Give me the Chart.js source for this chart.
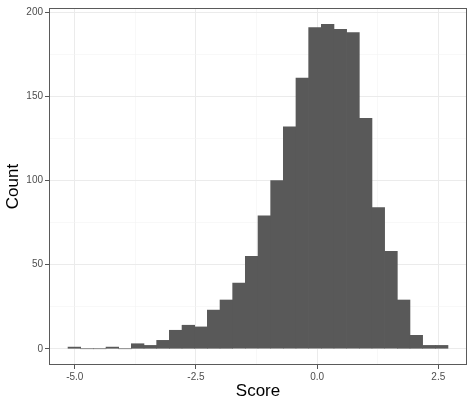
<!DOCTYPE html>
<html>
<head>
<meta charset="utf-8">
<script src="https://cdn.jsdelivr.net/npm/chart.js@4/dist/chart.umd.min.js"></script>
<style>
  html, body { margin: 0; padding: 0; background: #fff; }
  #scoreChart { display: block; }
</style>
</head>
<body>
<canvas id="scoreChart" width="474" height="409"></canvas>
<script>
// Bin centres (30 bins, ~0.261 wide) and counts
const binCenters = [-5.009, -4.748, -4.487, -4.225, -3.964, -3.703, -3.441, -3.180, -2.919, -2.657,
    -2.396, -2.135, -1.873, -1.612, -1.351, -1.089, -0.828, -0.567, -0.306, -0.044,
    0.217, 0.478, 0.740, 1.001, 1.262, 1.524, 1.785, 2.046, 2.308, 2.569];
const counts = [1, 0, 0, 1, 0, 3, 2, 5, 11, 14,
    13, 23, 29, 39, 55, 79, 100, 132, 161, 191,
    193, 190, 188, 137, 84, 58, 29, 8, 2, 2];

// Tick values: labelled ones plus minor grid lines in between
const xTicks = [-5, -3.75, -2.5, -1.25, 0, 1.25, 2.5];
const xLabelled = [-5, -2.5, 0, 2.5];
const yTicks = [0, 25, 50, 75, 100, 125, 150, 175, 200];
const yLabelled = [0, 50, 100, 150, 200];

const font = 'Liberation Sans, Arial, Helvetica, sans-serif';

const isMajor = (list, v) => list.some(t => Math.abs(t - v) < 1e-9);

// ggplot-like panel border all the way round
const panelBorder = {
    id: 'panelBorder',
    afterDraw(chart) {
        const a = chart.chartArea;
        const ctx = chart.ctx;
        ctx.save();
        ctx.strokeStyle = '#5a5a5a';
        ctx.lineWidth = 1;
        ctx.strokeRect(a.left + 0.5, a.top + 0.5, a.right - a.left - 1, a.bottom - a.top - 1);
        ctx.restore();
    }
};

const scoreData = {
    datasets: [
        {
            label: 'Count',
            data: binCenters.map((x, i) => ({ x: x, y: counts[i] })),
            backgroundColor: '#595959',
            borderWidth: 0,
            barPercentage: 1,
            categoryPercentage: 1
        }
    ]
};

const scoreConfig = {
    type: 'bar',
    data: scoreData,
    options: {
        responsive: false,
        animation: false,
        devicePixelRatio: 1,
        layout: { padding: { top: 6, right: 7, left: 0, bottom: 0 } },
        plugins: {
            legend: { display: false },
            tooltip: { enabled: false }
        },
        scales: {
            x: {
                type: 'linear',
                min: -5.532,
                max: 3.092,
                offset: false,
                grid: {
                    offset: false,
                    color: ctx => isMajor(xLabelled, ctx.tick.value) ? '#ebebeb' : '#f4f4f4',
                    lineWidth: ctx => isMajor(xLabelled, ctx.tick.value) ? 1 : 0.6,
                    tickColor: ctx => isMajor(xLabelled, ctx.tick.value) ? '#555' : 'rgba(0,0,0,0)',
                    tickLength: 4,
                    drawOnChartArea: true
                },
                border: { display: false },
                afterBuildTicks: scale => { scale.ticks = xTicks.map(v => ({ value: v })); },
                afterFit: scale => { scale.height = 44; },
                ticks: {
                    autoSkip: false,
                    maxRotation: 0,
                    padding: 2,
                    color: '#4d4d4d',
                    font: { family: font, size: 10 },
                    callback: v => isMajor(xLabelled, v) ? v.toFixed(1) : ''
                },
                title: {
                    display: true,
                    text: 'Score',
                    color: '#000',
                    font: { family: font, size: 17 },
                    padding: { top: 0, bottom: 7 }
                }
            },
            y: {
                min: -9.65,
                max: 202.65,
                grid: {
                    color: ctx => isMajor(yLabelled, ctx.tick.value) ? '#ebebeb' : '#f4f4f4',
                    lineWidth: ctx => isMajor(yLabelled, ctx.tick.value) ? 1 : 0.6,
                    tickColor: ctx => isMajor(yLabelled, ctx.tick.value) ? '#555' : 'rgba(0,0,0,0)',
                    tickLength: 4
                },
                border: { display: false },
                afterBuildTicks: scale => { scale.ticks = yTicks.map(v => ({ value: v })); },
                afterFit: scale => { scale.width = 49; },
                ticks: {
                    autoSkip: false,
                    padding: 2,
                    color: '#4d4d4d',
                    font: { family: font, size: 10 },
                    callback: v => isMajor(yLabelled, v) ? String(v) : ''
                },
                title: {
                    display: true,
                    text: 'Count',
                    color: '#000',
                    font: { family: font, size: 17 },
                    padding: { top: 3, bottom: 0 }
                }
            }
        }
    },
    plugins: [panelBorder]
};

const scoreCtx = document.getElementById('scoreChart').getContext('2d');
new Chart(scoreCtx, scoreConfig);
</script>
</body>
</html>
